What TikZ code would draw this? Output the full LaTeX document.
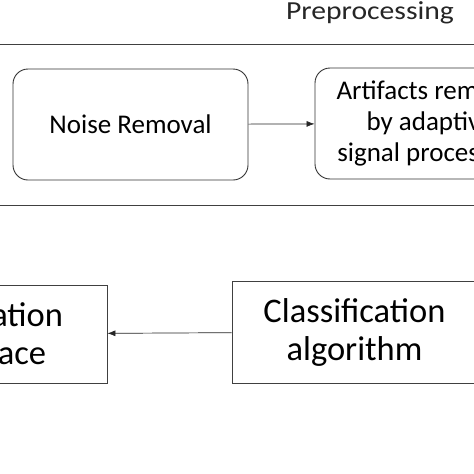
\documentclass[tikz,border=0pt]{standalone}
\usepackage{fontspec}
\setmainfont{Carlito}
\usepackage{tikz}
\usetikzlibrary{arrows.meta}
\tikzset{
	roundbox/.style={draw=black!80, line width=0.9pt, rounded corners=15pt, align=center, inner sep=0pt},
	plainbox/.style={draw=black!75, line width=0.8pt, align=center, inner sep=0pt},
	flow/.style={draw=black!85, line width=0.7pt, -{Latex[length=8pt,width=6pt]}}
}

\begin{document}
\begin{tikzpicture}[x=1pt, y=-1pt]
		%%%%% START %%%%%
		
		\useasboundingbox (0, 0) rectangle (474, 474);
		\clip (0, 0) rectangle (474, 474);
		\fill[white] (0, 0) rectangle (474, 474);
		
		\node[anchor=base, color=black!85, inner sep=0pt, xscale=1.14, transform shape, font=\fontsize{26}{30}\selectfont] (title) at (370, 19) {Preprocessing};
		
		\draw[line width=0.8pt, color=black!75] (0, 44) -- (474, 44);
		\draw[line width=0.8pt, color=black!75] (0, 205) -- (474, 205);
		
		\node[roundbox, minimum width=235pt, minimum height=111pt, font=\fontsize{27}{31}\selectfont] (noise) at (130.5, 124.5) {Noise Removal};
		\node[roundbox, minimum width=230pt, minimum height=111pt, font=\fontsize{27}{31}\selectfont] (artifacts) at (430, 123.5) {Artifacts removal\\by adaptive\\signal processing};
		\draw[flow] (noise) -- (artifacts);
		
		\node[plainbox, minimum width=245pt, minimum height=102pt, font=\fontsize{34.5}{38}\selectfont] (classif) at (354.5, 332) {Classification\\algorithm};
		\node[plainbox, minimum width=246pt, minimum height=98pt, font=\fontsize{34.5}{38}\selectfont] (appl) at (-16, 334) {Application\\interface};
		\draw[flow] (classif) -- (appl);
		
		%%%%% END %%%%%
	\end{tikzpicture}
\end{document}
